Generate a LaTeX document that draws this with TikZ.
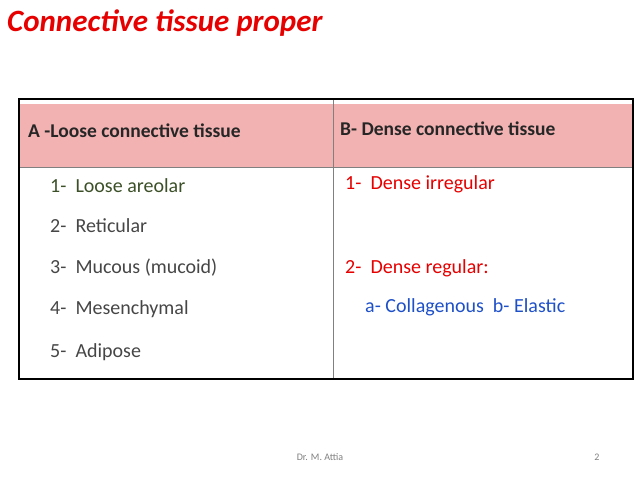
\documentclass[tikz,border=0pt]{standalone}
\usepackage{fontspec}
\setmainfont{Carlito}
\begin{document}
\begin{tikzpicture}[x=1pt,y=-1pt,
  item/.style={anchor=west,inner sep=0pt,font=\fontsize{20}{24}\selectfont},
  head/.style={anchor=west,inner sep=0pt,font=\fontsize{19.5}{24}\selectfont\bfseries,text=black!85}]
\useasboundingbox (0,0) rectangle (638,478);
\definecolor{hpink}{RGB}{242,178,178}
\definecolor{tred}{RGB}{230,0,0}
\definecolor{igreen}{RGB}{60,80,40}
\definecolor{igray}{RGB}{70,70,70}
\definecolor{iblue}{RGB}{30,80,200}
\node[anchor=west,inner sep=0pt,text=tred,font=\fontsize{31}{36}\selectfont\bfseries\itshape] (title) at (7,23) {Connective tissue proper};
\fill[hpink] (20,104) rectangle (632,168);
\draw[gray,line width=1pt] (20,168) -- (632,168);
\draw[gray,line width=1pt] (333,100) -- (333,378);
\draw[black,line width=2.5pt] (19,99) rectangle (633,379);
\node[head] (ha) at (28,131) {A -Loose connective tissue};
\node[head] (hb) at (340,129) {B- Dense connective tissue};
\node[item,text=igreen] (l1) at (50,186) {1-\ \ Loose areolar};
\node[item,text=igray] (l2) at (50,226) {2-\ \ Reticular};
\node[item,text=igray] (l3) at (50,268) {3-\ \ Mucous (mucoid)};
\node[item,text=igray] (l4) at (50,309) {4-\ \ Mesenchymal};
\node[item,text=igray] (l5) at (50,352) {5-\ \ Adipose};
\node[item,text=tred] (r1) at (345,184) {1-\ \ Dense irregular};
\node[item,text=tred] (r2) at (345,268) {2-\ \ Dense regular:};
\node[item,text=iblue] (r3) at (365,307) {a- Collagenous\ \ b- Elastic};
\node[inner sep=0pt,text=gray,font=\fontsize{10}{12}\selectfont] (auth) at (320,457) {Dr. M. Attia};
\node[inner sep=0pt,text=gray,font=\fontsize{10}{12}\selectfont] (pg) at (597,457) {2};
\end{tikzpicture}
\end{document}
